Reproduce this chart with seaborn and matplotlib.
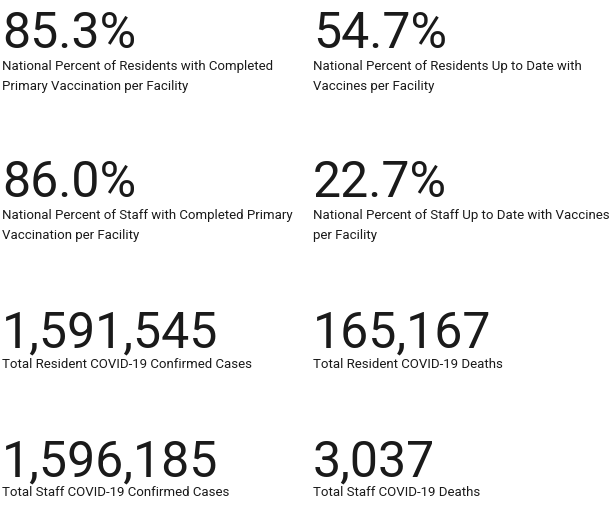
import matplotlib.pyplot as plt
import seaborn as sns

values = ["85.3%", "54.7%", "86.0%", "22.7%", "1,591,545", "165,167", "1,596,185", "3,037"]
labels = [
    ["National Percent of Residents with Completed", "Primary Vaccination per Facility"],
    ["National Percent of Residents Up to Date with", "Vaccines per Facility"],
    ["National Percent of Staff with Completed Primary", "Vaccination per Facility"],
    ["National Percent of Staff Up to Date with Vaccines", "per Facility"],
    ["Total Resident COVID-19 Confirmed Cases"],
    ["Total Resident COVID-19 Deaths"],
    ["Total Staff COVID-19 Confirmed Cases"],
    ["Total Staff COVID-19 Deaths"],
]

sns.set_theme(style="white")
plt.rcParams["font.family"] = ["Roboto", "DejaVu Sans"]

W, H = 610, 518
fig = plt.figure(figsize=(W / 100, H / 100), dpi=100)
fig.patch.set_facecolor("white")

col_x = [2, 313]
num_base = [48, 197, 347, 476]
lab_base = [70, 219, 368, 496]
line_gap = 20

for i, (v, lab) in enumerate(zip(values, labels)):
    r, c = divmod(i, 2)
    x = col_x[c] / W
    fig.text(x, 1 - num_base[r] / H, v, fontsize=36, fontweight="normal",
             color="#1a1a1a", va="baseline", ha="left")
    for k, line in enumerate(lab):
        fig.text(x, 1 - (lab_base[r] + k * line_gap) / H, line, fontsize=9.5,
                 color="#1a1a1a", va="baseline", ha="left")

fig.savefig("out.png", dpi=100, facecolor="white")
